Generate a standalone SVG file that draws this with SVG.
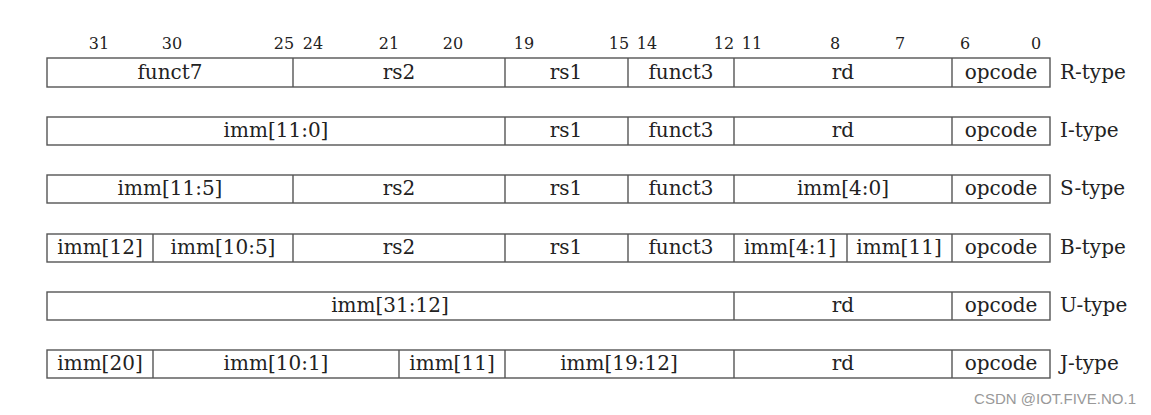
<svg xmlns="http://www.w3.org/2000/svg" width="1151" height="415" viewBox="0 0 1151 415">
<style>
.box{fill:#fff;stroke:#555;stroke-width:1.4}
.dv{stroke:#555;stroke-width:1.4}
.f{font-family:"DejaVu Serif","Liberation Serif",serif;font-size:20px;fill:#222;text-anchor:middle}
.b{font-family:"DejaVu Serif","Liberation Serif",serif;font-size:16px;fill:#222;text-anchor:middle}
.t{font-family:"DejaVu Serif","Liberation Serif",serif;font-size:20px;fill:#222}
.w{font-family:"Liberation Sans","DejaVu Sans",sans-serif;font-size:15px;fill:#999;text-anchor:end}
</style>
<rect width="1151" height="415" fill="#fff"/>
<g id="bits">
<text class="b" x="99" y="49">31</text>
<text class="b" x="172" y="49">30</text>
<text class="b" x="284" y="49">25</text>
<text class="b" x="313" y="49">24</text>
<text class="b" x="389" y="49">21</text>
<text class="b" x="453" y="49">20</text>
<text class="b" x="524" y="49">19</text>
<text class="b" x="619" y="49">15</text>
<text class="b" x="647" y="49">14</text>
<text class="b" x="724" y="49">12</text>
<text class="b" x="752" y="49">11</text>
<text class="b" x="835" y="49">8</text>
<text class="b" x="900" y="49">7</text>
<text class="b" x="965" y="49">6</text>
<text class="b" x="1036" y="49">0</text>
</g>
<g id="r-type">
<rect class="box" x="47" y="58" width="1003" height="29"/>
<line class="dv" x1="293" y1="58" x2="293" y2="87"/>
<line class="dv" x1="505" y1="58" x2="505" y2="87"/>
<line class="dv" x1="628" y1="58" x2="628" y2="87"/>
<line class="dv" x1="734" y1="58" x2="734" y2="87"/>
<line class="dv" x1="952" y1="58" x2="952" y2="87"/>
<text class="f" x="170" y="79">funct7</text>
<text class="f" x="399" y="79">rs2</text>
<text class="f" x="566" y="79">rs1</text>
<text class="f" x="681" y="79">funct3</text>
<text class="f" x="843" y="79">rd</text>
<text class="f" x="1001" y="79">opcode</text>
<text class="t" x="1060" y="79">R-type</text>
</g>
<g id="i-type">
<rect class="box" x="47" y="117" width="1003" height="28"/>
<line class="dv" x1="505" y1="117" x2="505" y2="145"/>
<line class="dv" x1="628" y1="117" x2="628" y2="145"/>
<line class="dv" x1="734" y1="117" x2="734" y2="145"/>
<line class="dv" x1="952" y1="117" x2="952" y2="145"/>
<text class="f" x="276" y="137">imm[11:0]</text>
<text class="f" x="566" y="137">rs1</text>
<text class="f" x="681" y="137">funct3</text>
<text class="f" x="843" y="137">rd</text>
<text class="f" x="1001" y="137">opcode</text>
<text class="t" x="1060" y="137">I-type</text>
</g>
<g id="s-type">
<rect class="box" x="47" y="175" width="1003" height="28"/>
<line class="dv" x1="293" y1="175" x2="293" y2="203"/>
<line class="dv" x1="505" y1="175" x2="505" y2="203"/>
<line class="dv" x1="628" y1="175" x2="628" y2="203"/>
<line class="dv" x1="734" y1="175" x2="734" y2="203"/>
<line class="dv" x1="952" y1="175" x2="952" y2="203"/>
<text class="f" x="170" y="195">imm[11:5]</text>
<text class="f" x="399" y="195">rs2</text>
<text class="f" x="566" y="195">rs1</text>
<text class="f" x="681" y="195">funct3</text>
<text class="f" x="843" y="195">imm[4:0]</text>
<text class="f" x="1001" y="195">opcode</text>
<text class="t" x="1060" y="195">S-type</text>
</g>
<g id="b-type">
<rect class="box" x="47" y="234" width="1003" height="28"/>
<line class="dv" x1="153" y1="234" x2="153" y2="262"/>
<line class="dv" x1="293" y1="234" x2="293" y2="262"/>
<line class="dv" x1="505" y1="234" x2="505" y2="262"/>
<line class="dv" x1="628" y1="234" x2="628" y2="262"/>
<line class="dv" x1="734" y1="234" x2="734" y2="262"/>
<line class="dv" x1="847" y1="234" x2="847" y2="262"/>
<line class="dv" x1="952" y1="234" x2="952" y2="262"/>
<text class="f" x="100" y="254">imm[12]</text>
<text class="f" x="223" y="254">imm[10:5]</text>
<text class="f" x="399" y="254">rs2</text>
<text class="f" x="566" y="254">rs1</text>
<text class="f" x="681" y="254">funct3</text>
<text class="f" x="790" y="254">imm[4:1]</text>
<text class="f" x="899" y="254">imm[11]</text>
<text class="f" x="1001" y="254">opcode</text>
<text class="t" x="1060" y="254">B-type</text>
</g>
<g id="u-type">
<rect class="box" x="47" y="292" width="1003" height="28"/>
<line class="dv" x1="734" y1="292" x2="734" y2="320"/>
<line class="dv" x1="952" y1="292" x2="952" y2="320"/>
<text class="f" x="390" y="312">imm[31:12]</text>
<text class="f" x="843" y="312">rd</text>
<text class="f" x="1001" y="312">opcode</text>
<text class="t" x="1060" y="312">U-type</text>
</g>
<g id="j-type">
<rect class="box" x="47" y="350" width="1003" height="28"/>
<line class="dv" x1="153" y1="350" x2="153" y2="378"/>
<line class="dv" x1="399" y1="350" x2="399" y2="378"/>
<line class="dv" x1="505" y1="350" x2="505" y2="378"/>
<line class="dv" x1="734" y1="350" x2="734" y2="378"/>
<line class="dv" x1="952" y1="350" x2="952" y2="378"/>
<text class="f" x="100" y="370">imm[20]</text>
<text class="f" x="276" y="370">imm[10:1]</text>
<text class="f" x="452" y="370">imm[11]</text>
<text class="f" x="619" y="370">imm[19:12]</text>
<text class="f" x="843" y="370">rd</text>
<text class="f" x="1001" y="370">opcode</text>
<text class="t" x="1060" y="370">J-type</text>
</g>
<g id="connectors"></g>
<text class="w" x="1136" y="404">CSDN @IOT.FIVE.NO.1</text>
</svg>
